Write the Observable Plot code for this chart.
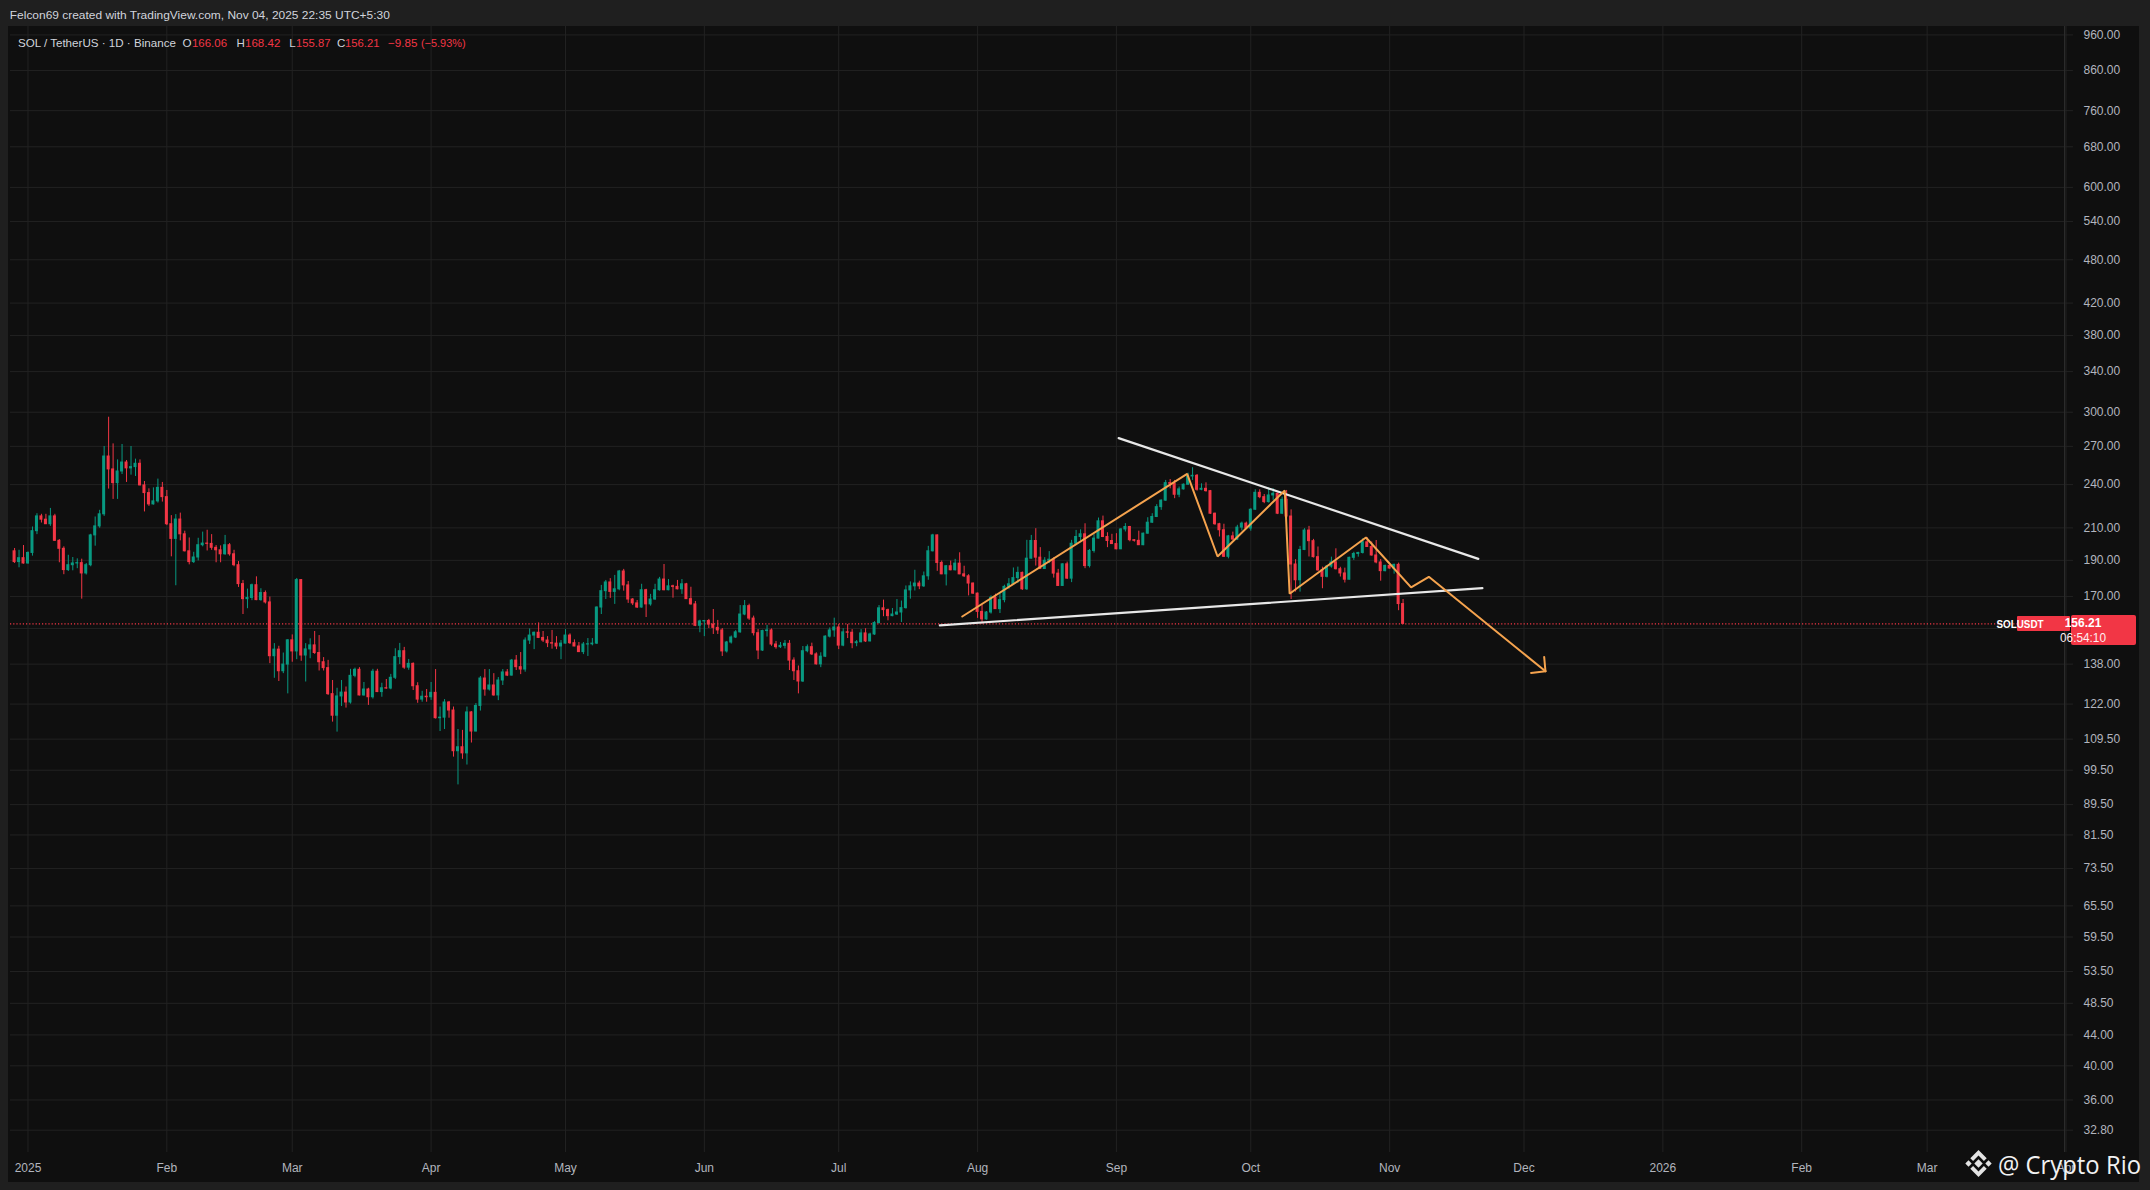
<!DOCTYPE html>
<html>
<head>
<meta charset="utf-8">
<script src="https://cdn.jsdelivr.net/npm/d3@7"></script>
<script src="https://cdn.jsdelivr.net/npm/@observablehq/plot@0.6"></script>
<style>
  html, body { margin: 0; padding: 0; background: #1f1f1f; }
  #page { position: relative; width: 2150px; height: 1190px; overflow: hidden; background: #1f1f1f; }
  #panel { position: absolute; left: 8px; top: 26px; width: 2131px; height: 1156px; background: #0f0f0f; }
  #chart { position: absolute; left: 0; top: 26px; }
  #overlay { position: absolute; left: 0; top: 0; pointer-events: none; }
</style>
</head>
<body>
<div id="page">
  <div id="panel"></div>
  <div id="chart"></div>
  <svg id="overlay" width="2150" height="1190"></svg>
</div>
<script>
// ---------------- DATA ----------------
const firstDay = "2024-12-29"; // first daily candle (UTC)
const open = [
195.4,189.0,191.3,188.2,194.4,207.9,217.6,215.4,212.4,217.6,
201.8,196.9,184.4,187.2,188.2,188.4,182.5,187.2,205.2,211.0,
219.0,261.7,251.5,241.1,249.9,256.9,252.3,253.3,255.9,239.4,
233.8,225.8,227.9,237.6,230.9,212.4,203.0,215.5,205.9,195.4,
189.0,191.7,199.1,200.1,199.9,197.5,196.0,193.6,199.1,193.6,
187.2,176.6,168.6,169.2,176.0,168.1,171.8,166.9,141.4,144.3,
135.0,137.8,148.5,143.5,178.8,141.7,144.4,146.2,142.8,138.8,
136.3,125.8,117.7,124.9,126.4,122.6,133.1,135.6,125.3,127.6,
124.6,134.8,126.6,128.1,128.0,132.3,141.0,143.6,136.5,138.1,
128.9,123.7,124.8,124.6,126.3,116.8,117.0,122.6,119.6,105.5,
106.8,104.8,118.9,112.1,121.3,132.0,127.6,129.2,125.3,131.2,
134.5,133.2,139.5,136.7,135.7,148.4,150.7,152.0,149.6,148.4,
147.2,147.0,145.7,147.0,150.7,147.2,145.7,143.2,146.6,146.7,
147.0,164.3,172.8,177.5,172.4,173.8,183.6,175.9,168.4,166.4,
164.3,173.3,165.9,168.4,173.3,179.1,173.3,175.4,175.1,173.8,
176.5,168.6,165.9,155.3,157.4,157.6,155.9,154.3,153.1,143.5,
147.5,149.8,152.2,160.8,165.0,158.8,151.8,143.9,152.8,153.1,
146.6,145.4,146.0,146.9,139.5,135.0,130.8,143.6,145.4,142.2,
137.9,141.2,150.2,153.1,154.5,146.1,152.2,152.0,147.2,147.6,
151.7,148.0,151.2,156.6,163.9,163.0,160.0,160.8,161.8,164.0,
173.2,175.4,176.9,175.4,180.9,195.4,205.2,188.5,182.0,186.6,
184.3,188.1,182.0,180.9,176.9,171.5,162.1,158.4,161.8,169.3,
163.5,168.1,175.1,176.5,179.9,182.8,173.8,191.0,201.7,191.6,
185.0,189.8,190.4,182.4,175.6,187.7,179.6,200.0,204.2,205.9,
186.7,195.6,203.2,214.3,204.2,201.7,199.8,196.6,209.0,210.6,
202.2,201.8,199.1,206.3,213.4,217.2,223.9,228.4,241.1,240.6,
232.6,236.5,239.9,246.1,246.6,236.2,236.9,235.2,219.4,212.4,
208.5,192.1,204.6,202.6,210.2,212.8,209.6,222.1,234.0,230.9,
227.4,232.1,233.3,219.4,229.0,217.5,187.6,178.7,196.2,208.3,
201.6,191.9,184.2,180.6,186.4,188.8,184.9,182.5,179.0,191.5,
193.8,194.4,200.9,198.0,192.9,188.8,183.8,186.8,185.3,187.4,
166.06];
const high = [
197.1,196.0,198.9,195.0,210.6,219.4,219.0,219.0,223.0,219.0,
202.6,198.1,193.0,191.7,190.9,190.7,188.2,205.9,217.2,221.7,
269.9,295.4,272.1,259.0,271.6,258.5,269.9,259.6,259.0,242.3,
236.9,237.6,244.1,241.6,235.7,218.1,218.8,219.8,207.9,203.6,
194.8,203.4,207.3,208.5,205.7,198.9,198.7,205.2,200.1,196.0,
189.3,178.6,173.9,176.6,180.6,174.1,172.9,169.7,147.0,145.8,
142.8,148.8,151.0,179.7,179.1,147.0,149.2,152.6,150.7,140.8,
139.6,131.2,128.1,131.2,128.6,135.8,136.3,136.5,130.4,128.1,
135.8,135.8,130.1,131.6,133.7,144.7,147.1,145.3,140.0,138.5,
130.3,126.9,127.6,130.4,135.7,120.9,123.7,123.0,120.9,112.8,
112.5,120.9,119.2,122.2,132.8,135.7,135.7,134.0,132.4,135.7,
135.7,140.0,141.7,143.0,149.6,153.8,152.3,156.7,152.6,150.2,
153.1,150.2,148.4,153.5,151.5,148.7,147.5,147.5,149.3,149.3,
164.6,175.9,178.6,179.6,181.4,184.2,184.8,178.0,168.9,167.9,
176.5,173.8,171.1,176.5,180.3,187.6,179.1,176.0,178.6,179.1,
177.0,174.9,167.4,158.0,157.9,158.4,163.3,157.9,154.0,148.0,
150.5,153.0,165.3,167.9,166.0,160.0,153.5,153.2,155.5,153.8,
148.0,147.5,148.4,148.4,140.7,137.2,145.7,146.4,147.2,142.9,
142.9,150.6,154.3,159.0,155.9,153.9,155.9,153.5,148.4,153.5,
153.9,151.8,157.3,165.3,168.1,163.5,163.8,168.4,167.6,175.6,
177.8,184.3,178.2,183.3,198.4,205.9,205.5,189.6,187.0,189.6,
190.6,194.5,186.6,181.8,177.2,171.8,165.5,162.3,170.3,171.2,
171.5,176.0,179.6,185.6,186.1,183.3,202.1,205.2,209.5,197.6,
191.6,195.2,191.6,184.8,188.0,189.0,202.1,208.4,208.8,212.7,
196.5,205.7,216.5,217.8,206.9,205.9,206.3,209.6,212.8,211.0,
202.6,207.9,206.7,216.7,219.4,225.6,229.0,243.1,243.8,243.1,
238.2,240.5,248.6,252.8,247.6,240.6,241.3,235.7,219.8,213.0,
212.4,205.2,207.3,211.7,213.8,213.8,222.8,236.2,236.2,232.8,
237.6,236.9,233.8,230.9,235.7,222.0,190.4,198.4,209.5,211.0,
202.7,198.0,186.1,187.0,191.9,196.9,186.0,185.5,191.9,194.8,
194.8,203.1,203.7,201.1,202.0,190.5,187.2,187.2,187.8,188.4,
168.42];
const low = [
188.2,185.7,187.8,187.8,192.5,205.7,213.2,212.2,211.0,201.4,
188.6,181.8,183.6,184.0,185.2,168.6,181.6,186.3,198.5,209.8,
217.6,236.7,229.3,229.3,247.6,241.6,247.1,246.1,239.1,220.6,
224.4,225.3,226.7,227.4,211.5,192.1,175.7,201.8,195.0,187.4,
188.2,189.7,198.1,195.6,196.0,188.6,188.6,193.0,192.5,186.3,
174.8,160.8,163.7,167.8,167.8,167.5,166.1,138.2,132.1,130.8,
134.0,125.9,138.8,139.9,139.2,130.6,140.3,142.2,135.1,135.1,
125.3,115.4,111.9,121.1,120.5,122.0,132.3,125.1,125.0,121.5,
123.9,126.4,124.6,127.7,127.5,131.6,137.8,135.8,135.4,127.2,
122.3,122.7,122.7,123.4,116.5,112.1,112.8,116.8,103.6,95.1,
102.9,101.1,108.2,112.0,119.4,125.0,127.0,125.0,123.3,129.2,
132.8,133.0,135.3,133.6,134.6,146.6,144.3,149.3,147.5,145.2,
144.5,144.3,139.9,146.8,146.6,145.6,143.0,142.1,141.3,146.0,
146.6,160.8,168.4,169.0,165.9,173.0,172.8,166.4,165.3,163.8,
164.0,159.3,165.0,168.0,172.8,173.0,173.0,169.1,173.5,171.1,
168.4,165.5,154.9,152.0,150.2,154.0,151.2,151.2,141.3,142.8,
146.8,149.3,151.8,160.2,157.9,150.5,139.9,143.5,150.0,145.8,
144.5,144.8,144.6,135.3,131.2,125.9,130.4,142.9,141.7,137.6,
136.5,140.8,149.6,149.9,144.3,145.6,149.3,144.7,145.6,147.4,
147.5,147.8,150.8,156.2,159.7,157.7,159.7,160.3,156.9,163.5,
168.6,172.9,173.6,174.8,178.7,195.0,183.7,181.8,175.6,184.0,
183.9,181.8,180.2,170.3,171.0,158.9,156.1,158.0,161.0,163.3,
161.3,166.7,173.8,176.2,176.9,173.2,173.2,190.8,186.7,184.8,
184.8,188.1,179.9,175.4,175.3,179.2,177.4,199.6,201.7,185.2,
185.6,194.3,203.0,203.8,197.6,199.5,196.3,196.4,207.4,201.2,
201.0,198.9,198.8,206.0,213.0,216.8,221.7,228.0,236.9,229.8,
230.5,236.0,239.5,243.1,235.2,235.5,234.5,219.0,211.7,204.2,
191.7,190.9,202.2,202.2,208.1,209.0,207.9,221.7,229.8,226.3,
226.7,228.6,218.8,218.8,216.1,168.4,172.3,172.3,195.8,192.0,
191.4,183.8,174.1,180.0,185.5,184.5,180.5,177.2,178.8,190.0,
191.9,193.8,197.7,192.5,188.0,178.2,183.4,184.9,182.1,162.7,
155.87];
const close = [
189.0,191.3,188.2,194.4,207.9,217.6,215.4,212.4,217.6,201.8,
196.9,184.4,187.2,188.2,188.4,182.5,187.2,205.2,211.0,219.0,
261.7,251.5,241.1,249.9,256.9,252.3,253.3,255.9,239.4,233.8,
225.8,227.9,237.6,230.9,212.4,203.0,215.5,205.9,195.4,189.0,
191.7,199.1,200.1,199.9,197.5,196.0,193.6,199.1,193.6,187.2,
176.6,168.6,169.2,176.0,168.1,171.8,166.9,141.4,144.3,135.0,
137.8,148.5,143.5,178.8,141.7,144.4,146.2,142.8,138.8,136.3,
125.8,117.7,124.9,126.4,122.6,133.1,135.6,125.3,127.6,124.6,
134.8,126.6,128.1,128.0,132.3,141.0,143.6,136.5,138.1,128.9,
123.7,124.8,124.6,126.3,116.8,117.0,122.6,119.6,105.5,106.8,
104.8,118.9,112.1,121.3,132.0,127.6,129.2,125.3,131.2,134.5,
133.2,139.5,136.7,135.7,148.4,150.7,152.0,149.6,148.4,147.2,
147.0,145.7,147.0,150.7,147.2,145.7,143.2,146.6,146.7,147.0,
164.3,172.8,177.5,172.4,173.8,183.6,175.9,168.4,166.4,164.3,
173.3,165.9,168.4,173.3,179.1,173.3,175.4,175.1,173.8,176.5,
168.6,165.9,155.3,157.4,157.6,155.9,154.3,153.1,143.5,147.5,
149.8,152.2,160.8,165.0,158.8,151.8,143.9,152.8,153.1,146.6,
145.4,146.0,146.9,139.5,135.0,130.8,143.6,145.4,142.2,137.9,
141.2,150.2,153.1,154.5,146.1,152.2,152.0,147.2,147.6,151.7,
148.0,151.2,156.6,163.9,163.0,160.0,160.8,161.8,164.0,173.2,
175.4,176.9,175.4,180.9,195.4,205.2,188.5,182.0,186.6,184.3,
188.1,182.0,180.9,176.9,171.5,162.1,158.4,161.8,169.3,163.5,
168.1,175.1,176.5,179.9,182.8,173.8,191.0,201.7,191.6,185.0,
189.8,190.4,182.4,175.6,187.7,179.6,200.0,204.2,205.9,186.7,
195.6,203.2,214.3,204.2,201.7,199.8,196.6,209.0,210.6,202.2,
201.8,199.1,206.3,213.4,217.2,223.9,228.4,241.1,240.6,232.6,
236.5,239.9,246.1,246.6,236.2,236.9,235.2,219.4,212.4,208.5,
192.1,204.6,202.6,210.2,212.8,209.6,222.1,234.0,230.9,227.4,
232.1,233.3,219.4,229.0,217.5,187.6,178.7,196.2,208.3,201.6,
191.9,184.2,180.6,186.4,188.8,184.9,182.5,179.0,191.5,193.8,
194.4,200.9,198.0,192.9,188.8,183.8,186.8,185.3,187.4,166.06,
156.21];

// price-scale tick labels (log scale)
const priceTicks = [960,860,760,680,600,540,480,420,380,340,300,270,240,210,190,170,138,122,109.5,99.5,89.5,81.5,73.5,65.5,59.5,53.5,48.5,44,40,36,32.8];
const hiddenGridPrices = [154]; // grid line whose label is hidden under the last-price tag
// time-scale tick labels
const monthStarts = ["2025-01-01","2025-02-01","2025-03-01","2025-04-01","2025-05-01","2025-06-01","2025-07-01","2025-08-01","2025-09-01","2025-10-01","2025-11-01","2025-12-01","2026-01-01","2026-02-01","2026-03-01","2026-04-01"];
const monthNames  = ["2025","Feb","Mar","Apr","May","Jun","Jul","Aug","Sep","Oct","Nov","Dec","2026","Feb","Mar","Apr"];

// drawings (time, price)
const resistanceTimes  = ["2025-09-01T12:00Z","2025-11-20T19:00Z"];
const resistancePrices = [277.0, 190.9];
const supportTimes     = ["2025-07-23T14:00Z","2025-11-21T17:00Z"];
const supportPrices    = [155.5, 174.4];
const pathTimes  = ["2025-07-28T14:00Z","2025-09-16T19:00Z","2025-09-23T14:00Z","2025-10-08T14:00Z","2025-10-09T16:00Z","2025-10-26T17:00Z","2025-11-05T19:00Z","2025-11-09T18:00Z","2025-12-05T19:00Z"];
const pathPrices = [159.8, 248.1, 192.3, 235.7, 171.4, 203.9, 174.8, 180.6, 135.0];
const arrowArmTimes  = ["2025-12-02T14:00Z","2025-12-05T12:00Z"];
const arrowArmPrices = [134.3, 141.1];

const symbolText = "SOL / TetherUS · 1D · Binance";
const creditText = "Felcon69 created with TradingView.com, Nov 04, 2025 22:35 UTC+5:30";
const countdown = "06:54:10";
const watermark = "@ Crypto Rio";

// ---------------- BUILD ----------------
const DAY = 864e5;
const t0 = Date.parse(firstDay);
const jan1 = Date.UTC(2025, 0, 1);
const candles = close.map((c, i) => ({
  date: new Date(t0 + i * DAY), open: open[i], high: high[i], low: low[i], close: c
}));
const UP = "#089981", DOWN = "#f23645";
const col = d => d.close >= d.open ? UP : DOWN;
const GRID = "#222222";
const AXIS_TEXT = "#b2b5be";
const FONT = "'Liberation Sans', Arial, sans-serif";
const monthDates = monthStarts.map(s => new Date(s));
const monthLabel = new Map(monthDates.map((d, i) => [+d, monthNames[i]]));
const xDomain = [new Date(jan1 - 3.907 * DAY), new Date(jan1 + 454.67 * DAY)];
const xTickEnd = new Date(+xDomain[1] + 2.0 * DAY); // ~9px past the price-scale border
const pts = (ts, ps) => ts.map((t, i) => ({t: new Date(t), p: ps[i]}));
const tipIdx = pathTimes.length - 1;
const arrowLinks = arrowArmTimes.map((t, i) => ({
  x1: new Date(pathTimes[tipIdx]), y1: pathPrices[tipIdx], x2: new Date(t), y2: arrowArmPrices[i]
}));

const chart = Plot.plot({
  width: 2150, height: 1156,
  marginTop: 0, marginRight: 86, marginBottom: 30, marginLeft: 10,
  style: {background: "transparent", fontFamily: FONT, fontSize: "12px", color: AXIS_TEXT, overflow: "visible"},
  x: {type: "utc", domain: xDomain, axis: null},
  y: {type: "log", domain: [30.62, 985.2], axis: null},
  color: {type: "identity"},
  marks: [
    // grid
    Plot.ruleX(monthDates, {stroke: GRID, strokeWidth: 1}),
    Plot.ruleY([...priceTicks, ...hiddenGridPrices], {stroke: GRID, strokeWidth: 1}),
    // price scale: ticks + labels
    Plot.ruleY(priceTicks, {x1: xDomain[1], x2: xTickEnd, stroke: GRID, strokeWidth: 1}),
    Plot.text(priceTicks, {x: xDomain[1], y: d => d, text: d => d.toFixed(2), dx: 19, textAnchor: "start",
      fill: AXIS_TEXT, fontSize: 12, fontFamily: FONT}),
    // time scale labels
    Plot.axisX({anchor: "bottom", ticks: monthDates, tickFormat: d => monthLabel.get(+d), tickSize: 0, tickPadding: 11,
      fill: AXIS_TEXT, fontSize: 12, label: null}),
    // price-scale border
    Plot.ruleX([xDomain[1]], {stroke: "#2b2b2b", strokeWidth: 1}),
    // last price line
    Plot.ruleY([close[close.length - 1]], {stroke: DOWN, strokeWidth: 1.2, strokeDasharray: "1.2,2"}),
    // candles
    Plot.ruleX(candles, {x: "date", y1: "low", y2: "high", stroke: col, strokeWidth: 1}),
    Plot.rect(candles, {
      x1: d => new Date(+d.date - 0.335 * DAY), x2: d => new Date(+d.date + 0.335 * DAY),
      y1: "open", y2: "close", fill: col, insetTop: -0.5, insetBottom: -0.5
    }),
    // drawings
    Plot.line(pts(supportTimes, supportPrices), {x: "t", y: "p", stroke: "#e8e8e8", strokeWidth: 2.2, strokeLinecap: "round"}),
    Plot.line(pts(resistanceTimes, resistancePrices), {x: "t", y: "p", stroke: "#e8e8e8", strokeWidth: 2.2, strokeLinecap: "round"}),
    Plot.line(pts(pathTimes, pathPrices), {x: "t", y: "p", stroke: "#f5a34e", strokeWidth: 2, strokeLinejoin: "miter", strokeLinecap: "round"}),
    Plot.link(arrowLinks, {x1: "x1", y1: "y1", x2: "x2", y2: "y2", stroke: "#f5a34e", strokeWidth: 2, strokeLinecap: "round"})
  ]
});
document.getElementById("chart").appendChild(chart);

// last-price tags positioned with the plot's own y scale
const yS = chart.scale("y");
const last = close[close.length - 1];
const yv = yS.apply(last);
const svg = d3.select(chart);
const tag = svg.append("g").attr("font-family", FONT);
tag.append("rect").attr("x", 2017).attr("y", yv - 7.5).attr("width", 53).attr("height", 15).attr("fill", DOWN).attr("rx", 1);
tag.append("text").attr("x", 2020).attr("y", yv + 4.2).attr("fill", "#ffffff")
  .attr("font-size", 11.5).attr("font-weight", "bold")
  .attr("textLength", 47).attr("lengthAdjust", "spacingAndGlyphs").text("SOLUSDT");
tag.append("rect").attr("x", 2071).attr("y", yv - 8.5).attr("width", 65).attr("height", 30).attr("fill", DOWN).attr("rx", 2);
tag.append("text").attr("x", 2083).attr("y", yv + 4).attr("fill", "#ffffff").attr("font-size", 12).attr("font-weight", "bold").text(last.toFixed(2));
tag.append("text").attr("x", 2083).attr("y", yv + 18.5).attr("fill", "#ffeef0").attr("font-size", 12)
  .attr("textLength", 46).attr("lengthAdjust", "spacingAndGlyphs").text(countdown);

// header texts & watermark
const ov = d3.select("#overlay");
ov.append("text").attr("x", 9.8).attr("y", 19).attr("fill", "#d1d4dc")
  .attr("font-family", FONT).attr("font-size", 11.5)
  .attr("textLength", 380).attr("lengthAdjust", "spacingAndGlyphs").text(creditText);

const o = open[open.length - 1], h = high[high.length - 1], l = low[low.length - 1];
const prev = close[close.length - 2];
const chg = last - prev, pct = chg / prev * 100;
const fmtS = v => (v < 0 ? "\u2212" : "+") + Math.abs(v).toFixed(2);
// legend pieces: [text, x, width, colour]
const legendPieces = [
  [symbolText, 17.9, 158, "#d1d4dc"],
  ["O", 182.5, 0, "#d1d4dc"], [o.toFixed(2), 192, 35, DOWN],
  ["H", 236.6, 0, "#d1d4dc"], [h.toFixed(2), 245, 35.4, DOWN],
  ["L", 289.3, 0, "#d1d4dc"], [l.toFixed(2), 296, 34.4, DOWN],
  ["C", 337, 0, "#d1d4dc"], [last.toFixed(2), 345, 34.5, DOWN],
  [fmtS(chg), 388, 29.4, DOWN], ["(" + fmtS(pct) + "%)", 421, 44.6, DOWN]
];
legendPieces.forEach(([t, x, w, c]) => {
  const el = ov.append("text").attr("x", x).attr("y", 46.5).attr("fill", c)
    .attr("font-family", FONT).attr("font-size", 11.6).text(t);
  if (w > 0) el.attr("textLength", w).attr("lengthAdjust", "spacingAndGlyphs");
});

// watermark logo
const lg = ov.append("g").attr("fill", "#e4e4e4");
const cx = 1978.5, cy = 1163.5;
const dia = (x, y, r) => `${x},${y - r} ${x + r},${y} ${x},${y + r} ${x - r},${y}`;
lg.append("polygon").attr("points", dia(cx, cy, 4.2));
lg.append("polygon").attr("points", dia(cx - 10, cy, 3.2));
lg.append("polygon").attr("points", dia(cx + 10, cy, 3.2));
lg.append("polygon").attr("points", `${cx},${cy - 13.5} ${cx + 8.2},${cy - 5.3} ${cx + 5.4},${cy - 2.5} ${cx},${cy - 7.9} ${cx - 5.4},${cy - 2.5} ${cx - 8.2},${cy - 5.3}`);
lg.append("polygon").attr("points", `${cx},${cy + 13.5} ${cx + 8.2},${cy + 5.3} ${cx + 5.4},${cy + 2.5} ${cx},${cy + 7.9} ${cx - 5.4},${cy + 2.5} ${cx - 8.2},${cy + 5.3}`);
ov.append("text").attr("x", 1998).attr("y", 1174).attr("fill", "#f2f2f2")
  .attr("font-family", "'Open Sans', 'Noto Sans', sans-serif").attr("font-size", 26)
  .attr("textLength", 143).attr("lengthAdjust", "spacingAndGlyphs").text(watermark);
</script>
</body>
</html>
